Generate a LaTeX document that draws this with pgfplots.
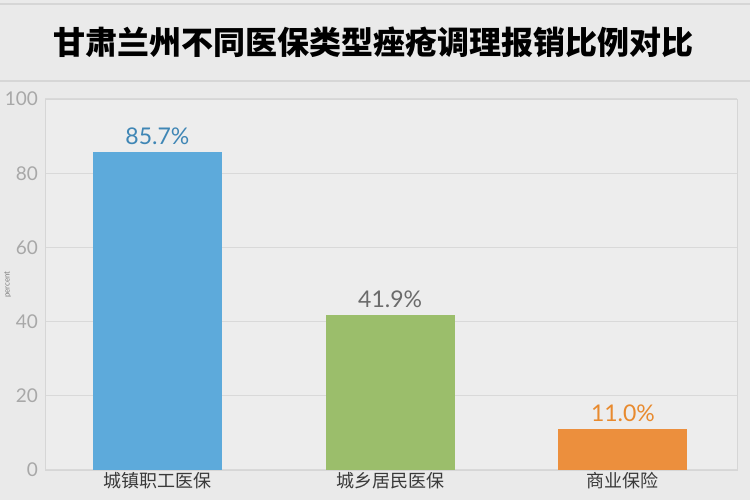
\documentclass[border=0pt]{standalone}
\usepackage{fontspec}
\setmainfont{Lato}
\newfontfamily\cjk{Noto Sans CJK SC}
\usepackage{pgfplots}
\pgfplotsset{compat=1.18}

\definecolor{bgc}{HTML}{EAEAEA}
\definecolor{plotbg}{HTML}{EDEDED}
\definecolor{linec}{HTML}{D6D6D6}
\definecolor{gridc}{HTML}{D9D9D9}
\definecolor{tickc}{HTML}{A8A8A8}
\definecolor{labc}{HTML}{3A3A3A}
\definecolor{cblue}{HTML}{5DAADB}
\definecolor{cgreen}{HTML}{9BBE6B}
\definecolor{corange}{HTML}{EC8F3D}
\definecolor{tblue}{HTML}{3F86B5}
\definecolor{tgreen}{HTML}{6B6B6B}
\definecolor{torange}{HTML}{E88A2E}

\begin{document}
\begin{tikzpicture}
\fill[bgc] (0pt,0pt) rectangle (375pt,250pt);
\useasboundingbox (0pt,0pt) rectangle (375pt,250pt);
\draw[linec, line width=0.7pt] (0pt,248pt) -- (375pt,248pt);
\draw[linec, line width=0.7pt] (0pt,209.5pt) -- (375pt,209.5pt);
\node[font=\cjk\bfseries\fontsize{16}{18}\selectfont, text=black] at (187pt,229pt)
  {甘肃兰州不同医保类型痤疮调理报销比例对比};

\begin{axis}[
    at={(22.5pt,15pt)}, anchor=south west,
    width=346pt, height=185.5pt, scale only axis,
    axis background/.style={fill=plotbg},
    axis line style={draw=linec},
    ymin=0, ymax=100, ytick={0,20,...,100},
    ymajorgrids, grid style={draw=gridc, line width=0.6pt},
    xmin=-0.483, xmax=2.49,
    xtick={0,1,2},
    xticklabels={城镇职工医保,城乡居民医保,商业保险},
    x tick label style={font=\cjk\fontsize{9}{10}\selectfont, text=labc, inner sep=1pt},
    y tick label style={font=\fontsize{9.5}{11}\selectfont, text=tickc},
    major tick length=0pt,
    /pgf/number format/assume math mode=true,
    ylabel={percent},
    ylabel style={font=\fontsize{4}{5}\selectfont, text=gray, anchor=center,
      at={(axis description cs:-0.054,0.5)}},
    ybar, bar width=64.5pt, bar shift=0pt,
    nodes near coords={\pgfmathprintnumber[fixed,fixed zerofill,precision=1]{\pgfplotspointmeta}\%},
    nodes near coords style={font=\fontsize{11.5}{13}\selectfont},
]
\addplot[fill=cblue, draw=none, every node near coord/.append style={text=tblue}]
  coordinates {(0,85.7)};
\addplot[fill=cgreen, draw=none, every node near coord/.append style={text=tgreen}]
  coordinates {(1,41.9)};
\addplot[fill=corange, draw=none, every node near coord/.append style={text=torange}]
  coordinates {(2,11.0)};
\end{axis}
\end{tikzpicture}
\end{document}
